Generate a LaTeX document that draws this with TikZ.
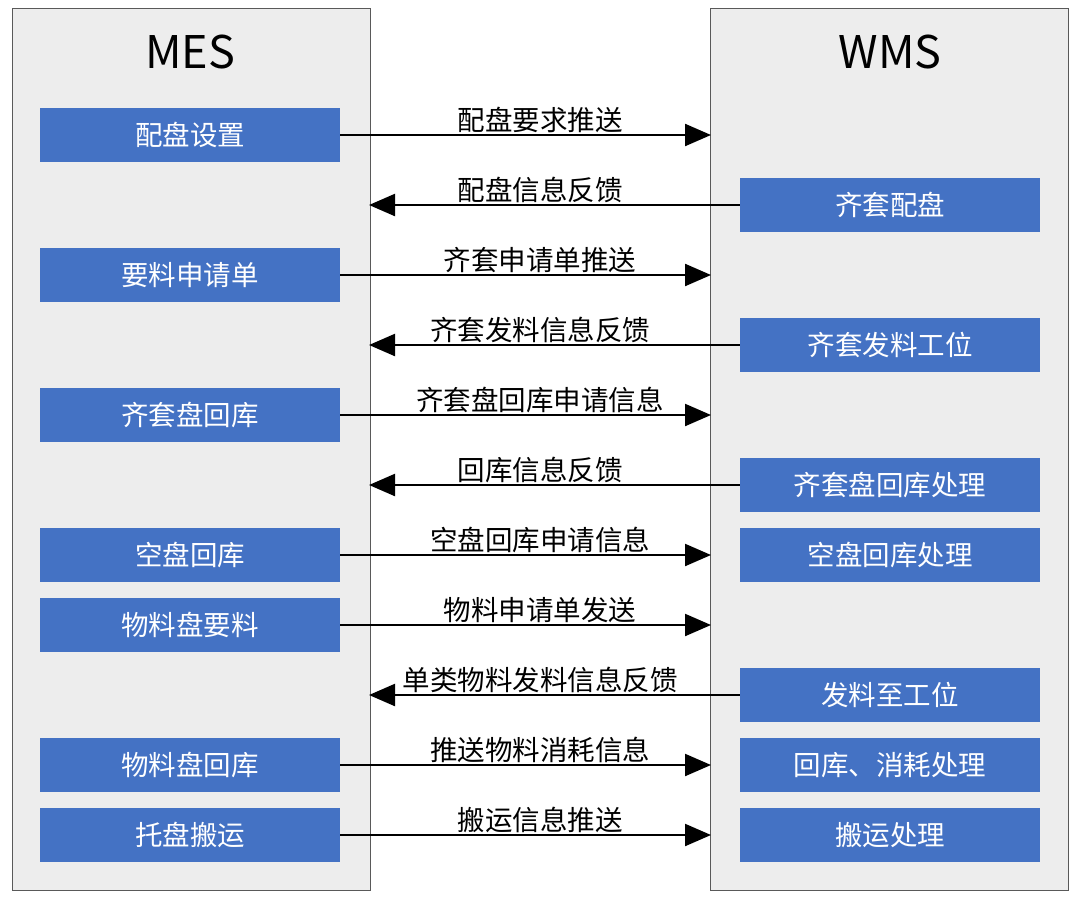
\documentclass[tikz,border=0pt]{standalone}
\usepackage{fontspec}
\setmainfont{Noto Sans CJK SC}
\usetikzlibrary{arrows.meta}
\begin{document}
\begin{tikzpicture}[x=1pt,y=-1pt,
  panel/.style={draw=gray!70!black,fill=gray!14,line width=1pt},
  box/.style={fill={rgb,255:red,68;green,114;blue,196},text=white,minimum width=300pt,minimum height=54pt,inner sep=0pt,font=\fontsize{27.5}{30}\selectfont},
  title/.style={font=\fontsize{45}{50}\selectfont},
  lab/.style={font=\fontsize{27.5}{30}\selectfont,above,inner sep=2pt},
  arr/.style={line width=2.2pt,-{Triangle[length=26pt,width=22pt]}}]
\useasboundingbox (0,0) rectangle (1080,897);
\draw[panel] (12,8) rectangle (370,890);
\draw[panel] (710,8) rectangle (1068,890);
\node[title] (mes) at (190,52) {MES};
\node[title] (wms) at (890,52) {WMS};
% left boxes
\node[box] (l1) at (190,135) {配盘设置};
\node[box] (l2) at (190,275) {要料申请单};
\node[box] (l3) at (190,415) {齐套盘回库};
\node[box] (l4) at (190,555) {空盘回库};
\node[box] (l5) at (190,625) {物料盘要料};
\node[box] (l6) at (190,765) {物料盘回库};
\node[box] (l7) at (190,835) {托盘搬运};
% right boxes
\node[box] (r1) at (890,205) {齐套配盘};
\node[box] (r2) at (890,345) {齐套发料工位};
\node[box] (r3) at (890,485) {齐套盘回库处理};
\node[box] (r4) at (890,555) {空盘回库处理};
\node[box] (r5) at (890,695) {发料至工位};
\node[box] (r6) at (890,765) {回库、消耗处理};
\node[box] (r7) at (890,835) {搬运处理};
% panel edge coordinates
\foreach \y/\n in {135/a,275/b,415/c,555/d,625/e,765/f,835/g} \coordinate (R\n) at (711,\y);
\foreach \y/\n in {205/a,345/b,485/c,695/d} \coordinate (L\n) at (369,\y);
\draw[arr] (l1.east) -- (Ra);
\draw[arr] (r1.west) -- (La);
\draw[arr] (l2.east) -- (Rb);
\draw[arr] (r2.west) -- (Lb);
\draw[arr] (l3.east) -- (Rc);
\draw[arr] (r3.west) -- (Lc);
\draw[arr] (l4.east) -- (Rd);
\draw[arr] (l5.east) -- (Re);
\draw[arr] (r5.west) -- (Ld);
\draw[arr] (l6.east) -- (Rf);
\draw[arr] (l7.east) -- (Rg);
\node[lab] (t1) at (540,135) {配盘要求推送};
\node[lab] (t2) at (540,205) {配盘信息反馈};
\node[lab] (t3) at (540,275) {齐套申请单推送};
\node[lab] (t4) at (540,345) {齐套发料信息反馈};
\node[lab] (t5) at (540,415) {齐套盘回库申请信息};
\node[lab] (t6) at (540,485) {回库信息反馈};
\node[lab] (t7) at (540,555) {空盘回库申请信息};
\node[lab] (t8) at (540,625) {物料申请单发送};
\node[lab] (t9) at (540,695) {单类物料发料信息反馈};
\node[lab] (t10) at (540,765) {推送物料消耗信息};
\node[lab] (t11) at (540,835) {搬运信息推送};
\end{tikzpicture}
\end{document}
